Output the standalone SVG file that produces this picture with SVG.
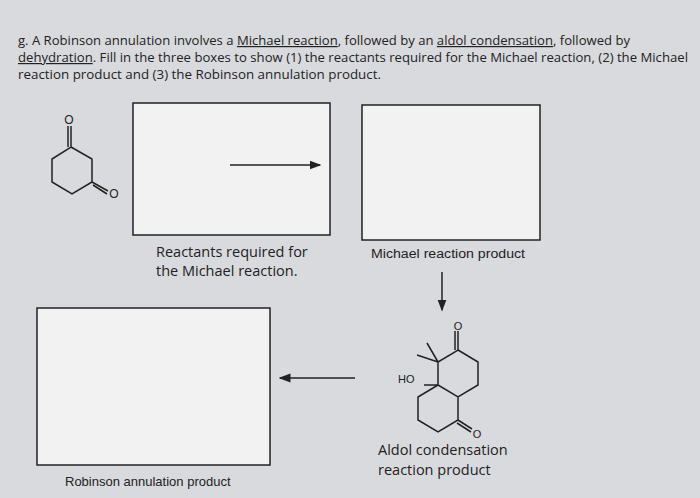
<svg xmlns="http://www.w3.org/2000/svg" width="700" height="498" viewBox="0 0 700 498">
<defs><marker id="ah" markerWidth="8" markerHeight="8" refX="7" refY="4" orient="auto"><path d="M0,1 L8,4 L0,7 z" fill="#222"/></marker>
<style>
.t{font-family:"Open Sans","Liberation Sans",sans-serif;fill:#222}
.a{font-family:"Liberation Sans",sans-serif;fill:#222}
.box{fill:#f2f2f2;stroke:#222;stroke-width:1.5}
.b{stroke:#222;stroke-width:1.5;fill:none}
</style></defs>
<rect width="700" height="498" fill="#d9dadd"/>
<g id="header" class="t" font-size="12">
<text x="18" y="45" textLength="612" lengthAdjust="spacingAndGlyphs">g. A Robinson annulation involves a <tspan text-decoration="underline">Michael reaction</tspan>, followed by an <tspan text-decoration="underline">aldol condensation</tspan>, followed by</text>
<text x="18" y="62" textLength="670" lengthAdjust="spacingAndGlyphs"><tspan text-decoration="underline">dehydration</tspan>. Fill in the three boxes to show (1) the reactants required for the Michael reaction, (2) the Michael</text>
<text x="18" y="79" textLength="363" lengthAdjust="spacingAndGlyphs">reaction product and (3) the Robinson annulation product.</text>
</g>
<g id="start">
<path class="b" d="M71,147 L92,159 L92,182 L72,194 L52,182 L52,159 Z M71,147 L71,126 M68,147 L68,126 M92,182 L108,191 M93,185 L107,194"/>
<text class="a" x="69" y="124" font-size="12" text-anchor="middle">O</text>
<text class="a" x="114" y="198" font-size="12" text-anchor="middle">O</text>
</g>
<g id="box1"><rect class="box" x="133" y="103" width="197" height="132"/>
<text class="t" x="156" y="257" font-size="14.5">Reactants required for</text>
<text class="t" x="156" y="276" font-size="14.5">the Michael reaction.</text></g>
<g id="box2"><rect class="box" x="362" y="105" width="178" height="135"/>
<text class="a" x="371" y="258" font-size="12.5" textLength="154" lengthAdjust="spacingAndGlyphs">Michael reaction product</text></g>
<g id="box3"><rect class="box" x="37" y="308" width="233" height="157"/>
<text class="a" x="65" y="486" font-size="13">Robinson annulation product</text></g>
<g id="aldol">
<path class="b" d="M458,350 L478,362 L478,385 L458,397 L438,385 L438,362 Z M458,350 L458,331 M455,350 L455,331 M438,362 L427,343 M438,362 L417,355 M424,385 L438,385 M458,397 L458,420 L438,432 L418,420 L418,397 L438,385 M458,420 L472,429 M457,423 L471,432"/>
<text class="a" x="458" y="330" font-size="11" text-anchor="middle">O</text>
<text class="a" x="477" y="438" font-size="11" text-anchor="middle">O</text>
<text class="a" x="398" y="383" font-size="11">HO</text>
<text class="t" x="378" y="455" font-size="14.5">Aldol condensation</text>
<text class="t" x="378" y="475" font-size="14.5">reaction product</text>
</g>
<g id="connectors" class="b">
<line x1="230" y1="165" x2="320" y2="165" marker-end="url(#ah)"/>
<line x1="442" y1="272" x2="442" y2="310" marker-end="url(#ah)"/>
<line x1="355" y1="378" x2="280" y2="378" marker-end="url(#ah)"/>
</g>
</svg>
